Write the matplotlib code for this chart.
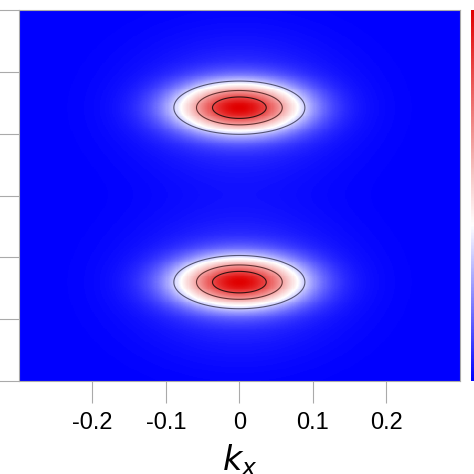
import numpy as np
import matplotlib
matplotlib.use("Agg")
import matplotlib.pyplot as plt
from matplotlib.colors import LinearSegmentedColormap

# peak parameters: (kx0, ky0, amplitude, sigma_x, sigma_y)
peak_kx = [0.0, 0.0]
peak_ky = [0.142, -0.140]
peak_amp = [1.0, 1.0]
peak_sx = [0.058, 0.058]
peak_sy = [0.027, 0.027]
halo_amp = [0.12, 0.12]
halo_sx = [0.09, 0.09]
halo_sy = [0.07, 0.07]
contour_levels = [0.38, 0.70, 0.93]
kx_ticks = [-0.2, -0.1, 0, 0.1, 0.2]
kx_labels = ["-0.2", "-0.1", "0", "0.1", "0.2"]
ky_ticks = [-0.3, -0.2, -0.1, 0, 0.1, 0.2, 0.3]

kx = np.linspace(-0.3, 0.3, 400)
ky = np.linspace(-0.3, 0.3, 400)
X, Y = np.meshgrid(kx, ky)
Z = np.zeros_like(X)
for i in range(len(peak_kx)):
    Z += peak_amp[i] * np.exp(-((X - peak_kx[i])**2 / (2 * peak_sx[i]**2)
                                + (Y - peak_ky[i])**2 / (2 * peak_sy[i]**2)))
    Z += halo_amp[i] * np.exp(-((X - peak_kx[i])**2 / (2 * halo_sx[i]**2)
                                + (Y - peak_ky[i])**2 / (2 * halo_sy[i]**2)))

cmap = LinearSegmentedColormap.from_list(
    "bwr2", [(0, "#0000ff"), (0.42, "#ffffff"), (1.0, "#e00000")])

plt.rcParams['font.family'] = ['Liberation Sans', 'DejaVu Sans']
fig = plt.figure(figsize=(4.74, 4.74), dpi=100)
ax = fig.add_axes([0.04, 0.196, 0.930, 0.783])
im = ax.pcolormesh(X, Y, Z, cmap=cmap, vmin=0, vmax=Z.max(), shading="auto")
ax.contour(X, Y, Z, levels=contour_levels, colors=["#555577", "#663333", "#331111"],
           linewidths=0.8)
ax.set_xlim(-0.3, 0.3)
ax.set_ylim(-0.3, 0.3)
ax.set_xticks(kx_ticks)
ax.set_xticklabels(kx_labels, fontsize=17)
ax.set_yticks(ky_ticks)
ax.set_yticklabels([])
ax.tick_params(axis="both", length=16, color="#aaaaaa", width=0.8, pad=6)
for s in ax.spines.values():
    s.set_color("#aaaaaa")
ax.set_xlabel(r"$k_x$", fontsize=24, labelpad=6)

cax = fig.add_axes([0.994, 0.196, 0.03, 0.783])
cb = fig.colorbar(im, cax=cax)
cb.set_ticks([])
cb.outline.set_visible(False)

fig.savefig("out.png", dpi=100)
